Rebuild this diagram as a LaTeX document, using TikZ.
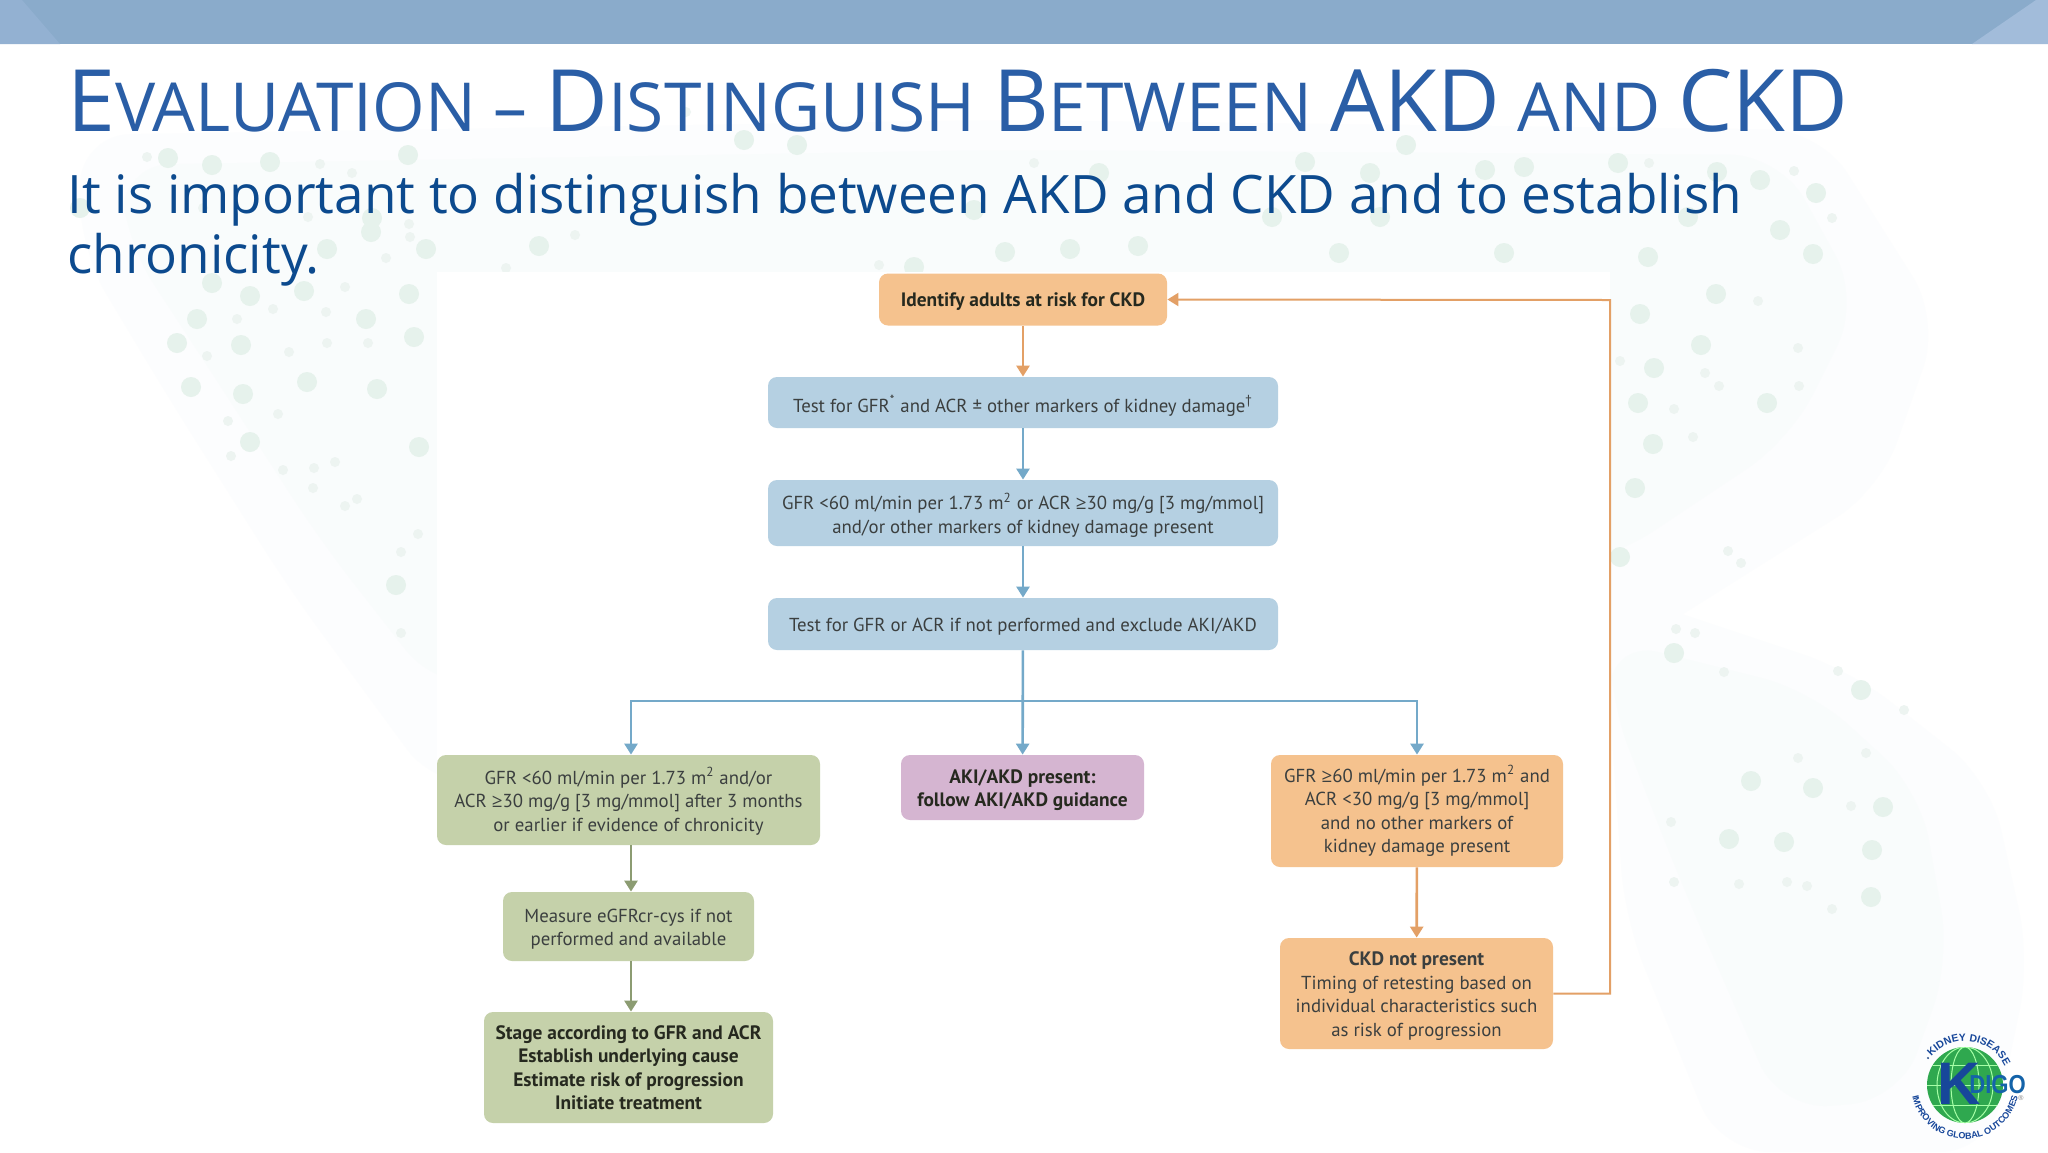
\documentclass[tikz,border=0pt]{standalone}
\usepackage{fontspec}
\setmainfont{Open Sans}
\newfontfamily\boxfont{PT Sans}
\newfontfamily\symfont{Open Sans}
\newfontfamily\logofont{Liberation Sans}
\usetikzlibrary{arrows.meta,decorations.text,calc}
\definecolor{band}{HTML}{8AABCB}
\definecolor{bandl}{HTML}{93B1D2}
\definecolor{bandr}{HTML}{A2BCDA}
\definecolor{titleblue}{HTML}{2A5EA6}
\definecolor{subblue}{HTML}{0C4A8E}
\definecolor{dotc}{HTML}{E6F2EC}
\definecolor{dots}{HTML}{EDF4F1}
\definecolor{wash}{HTML}{F9FCFC}
\definecolor{washo}{HTML}{FCFDFE}
\definecolor{oran}{HTML}{F5C28E}
\definecolor{oranl}{HTML}{E3A066}
\definecolor{blu}{HTML}{B5D0E2}
\definecolor{blul}{HTML}{74A9C9}
\definecolor{grn}{HTML}{C5D1AA}
\definecolor{grnl}{HTML}{8C9C72}
\definecolor{pur}{HTML}{D5B5D1}
\definecolor{txt}{HTML}{3B3F3F}
\definecolor{txtb}{HTML}{26291F}
\definecolor{globe}{HTML}{2FA84F}
\definecolor{navy}{HTML}{17479A}
\tikzset{
  x=0.5pt,y=-0.5pt,
  fbox/.style={rounded corners=4.5pt,inner sep=0pt,align=center,text=txt,
    font=\boxfont\fontsize{9.4}{11.7}\selectfont},
  obox/.style={fbox,fill=oran},
  bbox/.style={fbox,fill=blu},
  gbox/.style={fbox,fill=grn},
  pbox/.style={fbox,fill=pur},
  conn/.style={line width=1.3pt,-{Triangle[length=5.5pt,width=6.5pt]}},
  oarr/.style={conn,draw=oranl},
  barr/.style={conn,draw=blul},
  garr/.style={conn,draw=grnl},
}
\newcommand{\tp}[1]{\rule{0pt}{#1pt}}
\newcommand{\tcap}[1]{{\fontsize{43}{50}\selectfont #1}}
\newcommand{\tsm}[1]{{\fontsize{33.8}{50}\selectfont #1}}
\newcommand{\tsp}{{\fontsize{33.8}{50}\selectfont\ }}
\newcommand{\gee}{{\symfont ≥}}
\newcommand{\bld}[1]{{\fontsize{9.7}{11.7}\selectfont\bfseries #1}}
\begin{document}
\begin{tikzpicture}
\useasboundingbox (0,0) rectangle (2048,1152);
\fill[white] (0,0) rectangle (2048,1152);
% washes
\fill[washo,rounded corners=25pt] (80,135) -- (1000,120) -- (1820,130) -- (1940,320) -- (1880,490) -- (1610,660) -- (437,790) -- (290,590) -- (170,400) -- (80,250) -- cycle;
\fill[washo,rounded corners=25pt] (1610,590) -- (1850,670) -- (1990,780) -- (2030,960) -- (1990,1152) -- (1720,1152) -- (1625,920) -- (1610,710) -- cycle;
\fill[wash,rounded corners=25pt] (120,165) -- (1000,150) -- (1780,155) -- (1860,300) -- (1790,440) -- (1610,560) -- (437,690) -- (320,540) -- (210,370) -- (125,240) -- cycle;
\fill[wash,rounded corners=25pt] (1610,640) -- (1810,690) -- (1920,790) -- (1950,960) -- (1900,1100) -- (1780,1110) -- (1680,880) -- (1610,700) -- cycle;
% dots
\foreach \a/\b in {168/158,212/165,270/162,408/155,80/208,372/218,426/249,327/249,212/283,250/296,304/291,409/294,197/319,366/319,414/337,177/343,241/345,307/382,377/389,191/387,243/394,250/442,419/447,396/585,
1618/163,1717/172,1760/180,1816/193,1780/230,1688/217,1648/257,1813/254,1716/294,1640/314,1701/345,1654/368,1638/403,1767/403,1653/444,1635/488,1620/557,
1674/653,1861/690,1751/781,1813/788,1883/807,1729/839,1784/842,1872/850,1871/897,
744/140,797/145,1406/145,1305/162,1524/167,1485/170,1380/217,1272/217,1070/249,1138/246,1339/253,1504/253,539/246,914/267,1005/252,974/210,1370/173,1099/173,371/232}
  \fill[dotc] (\a,\b) circle (5pt);
\foreach \a/\b in {147/157,320/164,352/173,308/217,409/224,386/258,203/208,345/287,273/309,237/319,326/312,327/343,368/343,289/352,207/356,278/414,228/421,231/456,335/462,314/468,283/470,313/488,357/499,345/506,418/534,401/552,401/633,
1649/163,1794/171,1832/218,1758/301,1620/361,1798/348,1705/373,1719/386,1799/386,1674/409,1693/437,1728/551,1741/563,
1676/629,1695/633,1724/672,1838/671,1904/710,1866/753,1798/758,1851/806,1671/822,1674/882,1739/884,1787/882,1807/886,1832/909,
686/112,879/265,506/268,575/235,410/237,1034/163}
  \fill[dots] (\a,\b) circle (2.5pt);
% white panel behind the flowchart
\fill[white] (437,272) rectangle (1610,1152);
% header band
\fill[band] (0,0) rectangle (2048,44);
\fill[bandl] (0,0) -- (22,0) -- (60,44) -- (0,44) -- cycle;
\fill[bandr] (2036,0) -- (2048,0) -- (2048,44) -- (1972,44) -- cycle;
% title
\node[anchor=base west,inner sep=0pt,text=titleblue] (title) at (67,131) {\tcap{E}\tsm{VALUATION}\tsp\tsm{–}\tsp\tcap{D}\tsm{ISTINGUISH}\tsp\tcap{B}\tsm{ETWEEN}\tsp\tcap{AKD}\tsp\tsm{AND}\tsp\tcap{CKD}};
\node[anchor=base west,inner sep=0pt,text=subblue,font=\fontsize{26.5}{30}\selectfont] (sub1) at (67,213) {It is important to distinguish between AKD and CKD and to establish};
\node[anchor=base west,inner sep=0pt,text=subblue,font=\fontsize{26.5}{30}\selectfont] (sub2) at (67,273) {chronicity.};
% flow nodes
\node[obox,minimum width=144pt,minimum height=26pt,text=txtb] (id) at (1023,299.5) {\tp{9}\bld{Identify adults at risk for CKD}};
\node[bbox,minimum width=255pt,minimum height=25.5pt] (t1) at (1023,402.5) {\tp{11.6}Test for GFR\textsuperscript{*} and ACR ± other markers of kidney damage\textsuperscript{†}};
\node[bbox,minimum width=255pt,minimum height=33pt] (t2) at (1023,513) {\tp{10.4}GFR <60 ml/min per 1.73 m\textsuperscript{2} or ACR \gee30 mg/g [3 mg/mmol]\\and/or other markers of kidney damage present};
\node[bbox,minimum width=255pt,minimum height=26pt] (t3) at (1023,624) {\tp{9}Test for GFR or ACR if not performed and exclude AKI/AKD};
\node[gbox,minimum width=191.5pt,minimum height=45pt] (g1) at (628.5,800) {\tp{9.6}GFR <60 ml/min per 1.73 m\textsuperscript{2} and/or\\ACR \gee30 mg/g [3 mg/mmol] after 3 months\\or earlier if evidence of chronicity};
\node[gbox,minimum width=125.5pt,minimum height=34.5pt] (g2) at (628.5,926.5) {\tp{9.4}Measure eGFRcr-cys if not\\performed and available};
\node[gbox,minimum width=144.5pt,minimum height=55.5pt,text=txtb] (g3) at (628.5,1067.5) {\bld{Stage according to GFR and ACR}\\\bld{Establish underlying cause}\\\bld{Estimate risk of progression}\\\bld{Initiate treatment}};
\node[pbox,minimum width=121.5pt,minimum height=32.5pt,text=txtb] (aki) at (1022.5,787.5) {\tp{9.4}\bld{AKI/AKD present:}\\\bld{follow AKI/AKD guidance}};
\node[obox,minimum width=146pt,minimum height=56pt] (o1) at (1417,811) {GFR \gee60 ml/min per 1.73 m\textsuperscript{2} and\\ACR <30 mg/g [3 mg/mmol]\\and no other markers of\\kidney damage present};
\node[obox,minimum width=136.5pt,minimum height=55.5pt] (o2) at (1416.5,993.5) {\tp{9.4}\bld{CKD not present}\\Timing of retesting based on\\individual characteristics such\\as risk of progression};
\coordinate (j) at (1023,701);
\coordinate (rc) at (1610,300);
% connectors
\draw[oarr] (id) -- (t1);
\draw[barr] (t1) -- (t2);
\draw[barr] (t2) -- (t3);
\draw[barr] (t3) -- (aki);
\draw[barr] (j) -| ([xshift=1.25pt]g1.north);
\draw[barr] (j) -| (o1.north);
\draw[garr] ([xshift=1.25pt]g1.south) -- ([xshift=1.25pt]g2.north);
\draw[garr] ([xshift=1.25pt]g2.south) -- ([xshift=1.25pt]g3.north);
\draw[oarr] (o1) -- (o2);
\draw[oarr,line width=1pt] (o2.east) -| (rc) -- (id.east);
% logo
\begin{scope}[shift={(1965,1085)},x=0.5pt,y=0.5pt]
  \fill[globe] (0,0) circle (38);
  \begin{scope}
    \clip (0,0) circle (38);
    \draw[green!35!white,line width=.5pt] (0,0) ellipse (14 and 38) (0,0) ellipse (28 and 38);
    \draw[green!35!white,line width=.5pt] (-38,-20) -- (38,-20) (-38,0) -- (38,0) (-38,20) -- (38,20);
  \end{scope}
  \path[postaction={decorate},decoration={text along path,text align=center,
     text={|\logofont\bfseries\fontsize{5.2}{6}\selectfont\color{navy}|KIDNEY DISEASE}}]
     (150:44) arc (150:15:44);
  \path[postaction={decorate},decoration={text along path,text align=center,
     text={|\logofont\bfseries\fontsize{4.5}{6}\selectfont\color{navy}|IMPROVING GLOBAL OUTCOMES}}]
     (150:54) arc (150:390:54);
  \fill[navy!70!gray] (-37,27) circle (1.2);
  \node[inner sep=0pt,text=navy] (logok) at (-6,1) {\logofont\bfseries\fontsize{30}{30}\selectfont K};
  \node[anchor=west,inner sep=0pt,text=navy!85!cyan,xscale=.85] (logod) at (4,0) {\logofont\bfseries\fontsize{13}{14}\selectfont DIGO};
  \node[inner sep=0pt,text=gray] (logor) at (56,-13) {\logofont\fontsize{3.5}{4}\selectfont ®};
\end{scope}
\end{tikzpicture}
\end{document}
